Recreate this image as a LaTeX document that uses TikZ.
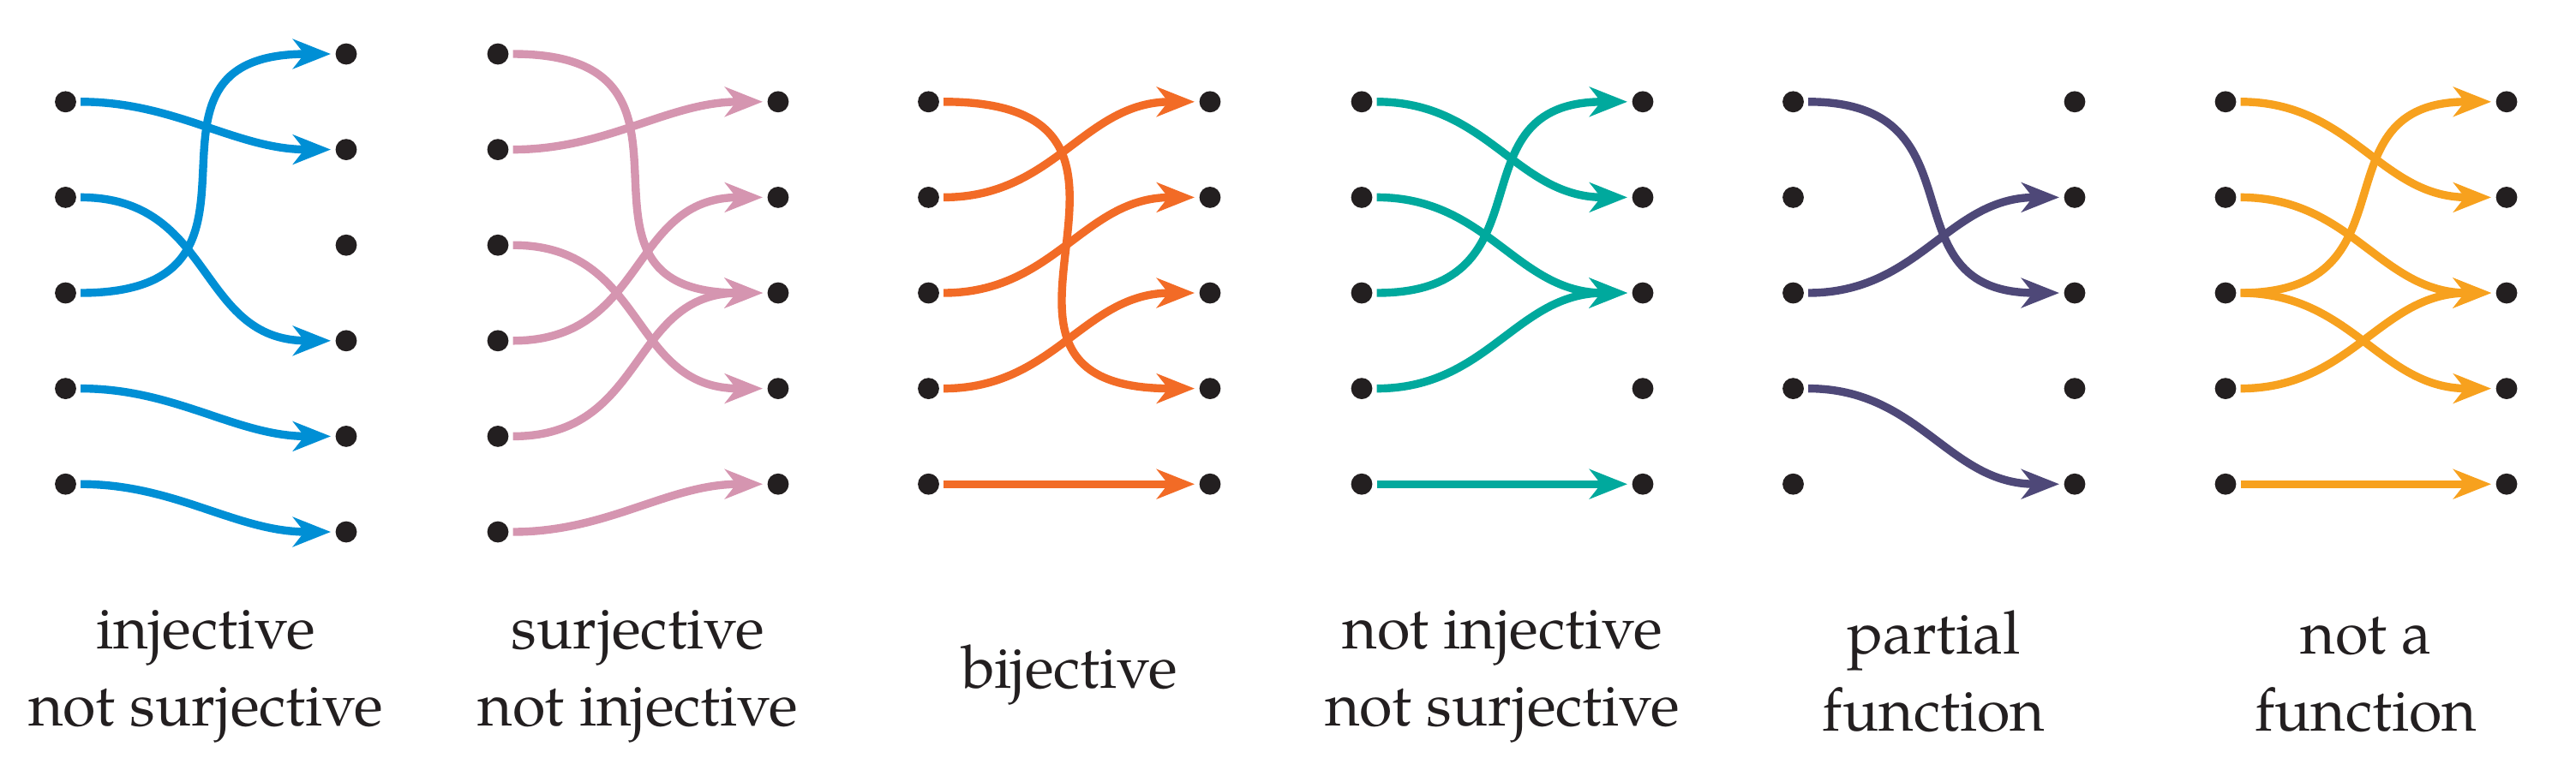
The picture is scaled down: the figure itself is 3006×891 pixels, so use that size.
\documentclass[tikz,border=0pt]{standalone}
\usepackage{fontspec}
\setmainfont{TeX Gyre Pagella}
\usetikzlibrary{arrows.meta}
\definecolor{dotC}{HTML}{231F20}
\definecolor{textC}{HTML}{231F20}
\definecolor{blueC}{HTML}{008FD5}
\definecolor{pinkC}{HTML}{D595B0}
\definecolor{orangeC}{HTML}{F26B26}
\definecolor{tealC}{HTML}{00A99D}
\definecolor{purpleC}{HTML}{4E4878}
\definecolor{amberC}{HTML}{F7A11E}
\newcommand\fivecol[2]{\foreach \k in {1,...,5} {\node[dotnode] (#2\k) at (#1, {118.8+111.6*(\k-1)}) {};}}
\newcommand\sixcol[2]{\foreach \k in {1,...,6} {\node[dotnode] (#2\k) at (#1, {63+111.6*(\k-1)}) {};}}
\newcommand\fmap[4]{\draw[maparrow,#1] (#2.east) .. controls +(#4,0) and +(-#4,0) .. (#3.west);}
\begin{document}
\begin{tikzpicture}[x=0.25pt, y=-0.25pt,
  dotnode/.style={circle, fill=dotC, inner sep=0pt, minimum size=6.2pt, outer sep=0pt},
  maparrow/.style={line width=2.35pt, -{Stealth[length=11pt,width=8.6pt,inset=3.3pt]}, shorten <=1.3pt, shorten >=1.4pt},
  lbl/.style={anchor=base, inner sep=0pt, text=textC, font=\fontsize{17.5}{22.5}\selectfont}]
\useasboundingbox (0,0) rectangle (3006,891);
% panel 1
\fivecol{76.5}{aL} \sixcol{404}{aR}
% panel 2
\sixcol{581}{bL} \fivecol{908}{bR}
% panel 3
\fivecol{1083.5}{cL} \fivecol{1412}{cR}
% panel 4
\fivecol{1589}{dL} \fivecol{1917}{dR}
% panel 5
\fivecol{2092.5}{eL} \fivecol{2421}{eR}
% panel 6
\fivecol{2597}{fL} \fivecol{2925}{fR}
% arrows panel 1
\fmap{blueC}{aL1}{aR2}{116}
\fmap{blueC}{aL2}{aR4}{162}
\fmap{blueC}{aL3}{aR1}{270}
\fmap{blueC}{aL4}{aR5}{116}
\fmap{blueC}{aL5}{aR6}{116}
% panel 2
\fmap{pinkC}{bL1}{bR3}{270}
\fmap{pinkC}{bL2}{bR1}{116}
\fmap{pinkC}{bL3}{bR4}{162}
\fmap{pinkC}{bL4}{bR2}{162}
\fmap{pinkC}{bL5}{bR3}{162}
\fmap{pinkC}{bL6}{bR5}{116}
% panel 3
\fmap{orangeC}{cL1}{cR4}{322}
\fmap{orangeC}{cL2}{cR1}{135}
\fmap{orangeC}{cL3}{cR2}{135}
\fmap{orangeC}{cL4}{cR3}{135}
\draw[maparrow,orangeC] (cL5.east) -- (cR5.west);
% panel 4
\fmap{tealC}{dL1}{dR2}{135}
\fmap{tealC}{dL2}{dR3}{135}
\fmap{tealC}{dL3}{dR1}{216}
\fmap{tealC}{dL4}{dR3}{135}
\draw[maparrow,tealC] (dL5.east) -- (dR5.west);
% panel 5
\fmap{purpleC}{eL1}{eR3}{216}
\fmap{purpleC}{eL3}{eR2}{135}
\fmap{purpleC}{eL4}{eR5}{135}
% panel 6
\fmap{amberC}{fL1}{fR2}{135}
\fmap{amberC}{fL2}{fR3}{135}
\fmap{amberC}{fL3}{fR1}{216}
\fmap{amberC}{fL3}{fR4}{135}
\fmap{amberC}{fL4}{fR3}{135}
\draw[maparrow,amberC] (fL5.east) -- (fR5.west);
% labels
\node[lbl] (t1a) at (240,757) {injective};
\node[lbl] (t1b) at (240,847) {not surjective};
\node[lbl] (t2a) at (744.5,757) {surjective};
\node[lbl] (t2b) at (744.5,847) {not injective};
\node[lbl] (t3) at (1248,803) {bijective};
\node[lbl] (t4a) at (1753,757) {not injective};
\node[lbl] (t4b) at (1753,847) {not surjective};
\node[lbl] (t5a) at (2256.5,763) {partial};
\node[lbl] (t5b) at (2256.5,853) {function};
\node[lbl] (t6a) at (2761,763) {not a};
\node[lbl] (t6b) at (2761,853) {function};
\end{tikzpicture}
\end{document}
